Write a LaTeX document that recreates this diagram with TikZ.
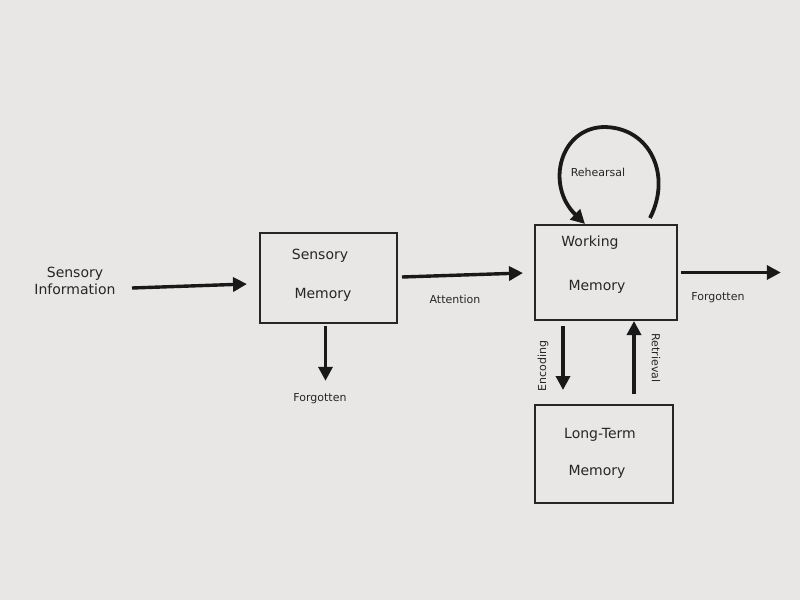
\documentclass[tikz,border=0pt]{standalone}
\usepackage{fontspec}
\setmainfont{DejaVu Sans}
\usetikzlibrary{arrows.meta}
\definecolor{paper}{RGB}{232,231,230}
\begin{document}
\begin{tikzpicture}[x=1pt,y=-1pt,
  box/.style={draw=black!85,line width=1.6pt,minimum width=#1,inner sep=0},
  arr/.style={-{Triangle[length=14pt,width=14pt]},line width=3.4pt,black!90},
  txt/.style={font=\fontsize{14}{17}\selectfont,text=black!85,align=center},
  small/.style={font=\fontsize{11}{13}\selectfont,text=black!85}]
\fill[paper] (0,0) rectangle (800,600);
\useasboundingbox (0,0) rectangle (800,600);
\node[txt] (si) at (75,281) {Sensory\\Information};
\node[box=137pt,minimum height=90pt] (sm) at (328.5,278) {};
\node[txt] at (320,256) {Sensory};
\node[txt] at (323,295) {Memory};
\node[box=142pt,minimum height=95pt] (wm) at (606,272.5) {};
\node[txt] at (590,243) {Working};
\node[txt] at (597,287) {Memory};
\node[box=138pt,minimum height=98pt] (ltm) at (604,454) {};
\node[txt] at (600,435) {Long-Term};
\node[txt] at (597,472) {Memory};
\coordinate (a1) at (132,288); \coordinate (a2) at (247,284);
\draw[arr] (a1) -- (a2);
\draw[arr] (sm.south) ++(-3,2) coordinate (f1) -- ++(0,55);
\node[small] (forg1) at (320,399) {Forgotten};
\coordinate (b1) at (402,277); \coordinate (b2) at (523,273);
\draw[arr] (b1) -- (b2);
\node[small] (att) at (455,299) {Attention};
\draw[arr] (wm.east) ++(3,0) coordinate (c1) -- ++(100,0);
\node[small] (forg2) at (718,298) {Forgotten};
\draw[arr] (563,326) coordinate (e1) -- (563,390) coordinate (e2);
\node[small,rotate=90] (enc) at (543,366) {Encoding};
\draw[arr] (634,394) coordinate (r1) -- (634,321) coordinate (r2);
\node[small,rotate=-90] (ret) at (656,358) {Retrieval};
\draw[-{Triangle[length=14pt,width=14pt]},line width=3.8pt,black!90]
  (650,218) .. controls (672,175) and (650,128) .. (605,127)
  .. controls (560,127) and (545,185) .. (585,224);
\node[small] (reh) at (598,172) {Rehearsal};
\end{tikzpicture}
\end{document}
